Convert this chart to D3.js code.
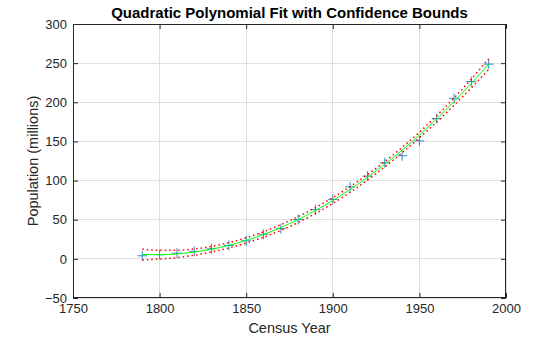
<!DOCTYPE html>
<html><head><meta charset="utf-8">
<script src="https://cdn.jsdelivr.net/npm/d3@7"></script>
<style>body{margin:0;background:#fff}svg{display:block}text{font-family:"Liberation Sans",Arial,Helvetica,sans-serif}</style>
</head><body><svg id="c" width="560" height="337"></svg>
<script>
const years = [1790,1800,1810,1820,1830,1840,1850,1860,1870,1880,1890,1900,1910,1920,1930,1940,1950,1960,1970,1980,1990];
const population = [3.9,5.3,7.2,9.6,12.9,17.1,23.1,31.4,38.6,50.2,62.9,76.0,92.0,105.7,122.8,131.7,150.7,179.0,205.0,226.5,248.7];
const fitValues = [5.59,5.31,6.35,8.70,12.35,17.31,23.58,31.16,40.05,50.24,61.75,74.55,88.68,104.10,120.84,138.89,158.24,178.90,200.86,224.14,248.73];
const boundHalf = [6.9,5.6,4.7,4.0,3.5,3.4,3.4,3.5,3.7,3.7,3.8,3.7,3.7,3.5,3.4,3.4,3.5,4.0,4.7,5.6,6.9];
const xTicks = [1750,1800,1850,1900,1950,2000];
const yTicks = [-50,0,50,100,150,200,250,300];

const svg = d3.select("#c");
const L=73,R=506,T=24,B=298;
const x = d3.scaleLinear().domain([1750,2000]).range([L,R]);
const y = d3.scaleLinear().domain([-50,300]).range([B,T]);
const axisCol="#262626";

// grid
svg.append("g").selectAll("line").data(xTicks).join("line")
 .attr("x1",d=>x(d)).attr("x2",d=>x(d)).attr("y1",T).attr("y2",B)
 .attr("stroke","#dfdfdf").attr("stroke-width",1).attr("shape-rendering","crispEdges");
svg.append("g").selectAll("line").data(yTicks).join("line")
 .attr("y1",d=>y(d)).attr("y2",d=>y(d)).attr("x1",L).attr("x2",R)
 .attr("stroke","#dfdfdf").attr("stroke-width",1).attr("shape-rendering","crispEdges");

// axes
const fs = "13px";
const xa = svg.append("g").attr("transform",`translate(0,${B})`).call(d3.axisBottom(x).tickValues(xTicks).tickFormat(d3.format("d")).tickSizeInner(-5).tickSizeOuter(0).tickPadding(6));
const xt = svg.append("g").attr("transform",`translate(0,${T})`).call(d3.axisTop(x).tickValues(xTicks).tickFormat("").tickSizeInner(-5).tickSizeOuter(0));
const ya = svg.append("g").attr("transform",`translate(${L},0)`).call(d3.axisLeft(y).tickValues(yTicks).tickSizeInner(-5).tickSizeOuter(0).tickPadding(6));
const yr = svg.append("g").attr("transform",`translate(${R},0)`).call(d3.axisRight(y).tickValues(yTicks).tickFormat("").tickSizeInner(-5).tickSizeOuter(0));
[xa,xt,ya,yr].forEach(g=>{
  g.select(".domain").remove();
  g.selectAll("line").attr("stroke",axisCol);
  g.selectAll("text").attr("fill",axisCol).style("font-size",fs).style("font-family",'"Liberation Sans",Arial,sans-serif');
});
svg.append("rect").attr("x",L+0.5).attr("y",T+0.5).attr("width",R-L-1).attr("height",B-T-1)
 .attr("fill","none").attr("stroke",axisCol).attr("stroke-width",1);

// data markers
svg.append("g").selectAll("path").data(years).join("path")
 .attr("d",(d,i)=>{const px=x(d),py=y(population[i]);return `M${px-5},${py}H${px+5}M${px},${py-5}V${py+5}`;})
 .attr("stroke","#0072bd").attr("stroke-opacity",0.8).attr("stroke-width",1).attr("fill","none");

const line = d3.line().x(d=>x(d[0])).y(d=>y(d[1])).curve(d3.curveMonotoneX);
// fit
svg.append("path").attr("d",line(years.map((yr,i)=>[yr,fitValues[i]]))).attr("fill","none")
 .attr("stroke","#00ff00").attr("stroke-width",1);
// bounds
const upper = years.map((yr,i)=>[yr,fitValues[i]+boundHalf[i]]);
const lower = years.map((yr,i)=>[yr,fitValues[i]-boundHalf[i]]);
[upper,lower].forEach(b=>svg.append("path").attr("d",line(b)).attr("fill","none")
 .attr("stroke","#ff0000").attr("stroke-width",1.5).attr("stroke-dasharray","1.5,3"));

// labels
svg.append("text").attr("x",(L+R)/2).attr("y",18).attr("text-anchor","middle")
 .style("font-size","15px").style("font-weight","bold").attr("fill","#000").text("Quadratic Polynomial Fit with Confidence Bounds");
svg.append("text").attr("x",(L+R)/2).attr("y",333).attr("text-anchor","middle")
 .style("font-size","14.5px").attr("fill",axisCol).text("Census Year");
svg.append("text").attr("transform",`translate(38,${(T+B)/2}) rotate(-90)`).attr("text-anchor","middle")
 .style("font-size","14.5px").attr("fill",axisCol).text("Population (millions)");
</script></body></html>
